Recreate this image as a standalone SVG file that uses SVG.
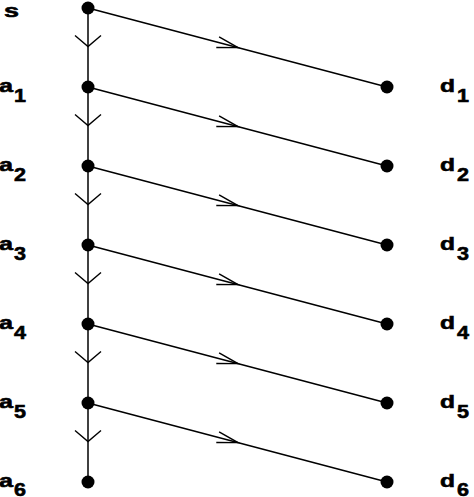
<svg xmlns="http://www.w3.org/2000/svg" xmlns:xlink="http://www.w3.org/1999/xlink" width="474" height="497" viewBox="0 0 474 497">
<style>
.ln{stroke:#000;stroke-width:1.5;fill:none}
.ch{stroke:#000;stroke-width:1.4;fill:none}
.nd{fill:#000}
.lb{font-family:"Liberation Sans",Arial,sans-serif;font-weight:bold;font-size:19px;fill:#000;stroke:#000;stroke-width:0.6}
</style>
<defs>
<path id="vch" class="ch" d="M-13,-11 L0,0 L13,-11"/>
<path id="dch" class="ch" d="M-21,-5.5 L0,0 L-21,5.5"/>
</defs>
<rect width="474" height="497" fill="#fff"/>
<g id="connectors">
<line class="ln" x1="88" y1="8" x2="88" y2="482"/>
<line class="ln" x1="88" y1="8" x2="387" y2="87"/>
<line class="ln" x1="88" y1="87" x2="387" y2="166"/>
<line class="ln" x1="88" y1="166" x2="387" y2="245"/>
<line class="ln" x1="88" y1="245" x2="387" y2="324"/>
<line class="ln" x1="88" y1="324" x2="387" y2="403"/>
<line class="ln" x1="88" y1="403" x2="387" y2="482"/>
<use xlink:href="#vch" transform="translate(88,46.5)"/>
<use xlink:href="#vch" transform="translate(88,125.5)"/>
<use xlink:href="#vch" transform="translate(88,204.5)"/>
<use xlink:href="#vch" transform="translate(88,283.5)"/>
<use xlink:href="#vch" transform="translate(88,362.5)"/>
<use xlink:href="#vch" transform="translate(88,441.5)"/>
<use xlink:href="#dch" transform="translate(238,47.6) rotate(14.8)"/>
<use xlink:href="#dch" transform="translate(238,126.6) rotate(14.8)"/>
<use xlink:href="#dch" transform="translate(238,205.6) rotate(14.8)"/>
<use xlink:href="#dch" transform="translate(238,284.6) rotate(14.8)"/>
<use xlink:href="#dch" transform="translate(238,363.6) rotate(14.8)"/>
<use xlink:href="#dch" transform="translate(238,442.6) rotate(14.8)"/>
</g>
<g id="s"><circle class="nd" cx="88" cy="8" r="6.5"/><text class="lb" x="4" y="17" textLength="15" lengthAdjust="spacingAndGlyphs">s</text></g>
<g id="a1"><circle class="nd" cx="88" cy="87" r="6.5"/><text class="lb" x="-1" y="92" textLength="14" lengthAdjust="spacingAndGlyphs">a</text><text class="lb" x="14" y="102" textLength="12" lengthAdjust="spacingAndGlyphs">1</text></g>
<g id="a2"><circle class="nd" cx="88" cy="166" r="6.5"/><text class="lb" x="-1" y="171" textLength="14" lengthAdjust="spacingAndGlyphs">a</text><text class="lb" x="14" y="181" textLength="12" lengthAdjust="spacingAndGlyphs">2</text></g>
<g id="a3"><circle class="nd" cx="88" cy="245" r="6.5"/><text class="lb" x="-1" y="250" textLength="14" lengthAdjust="spacingAndGlyphs">a</text><text class="lb" x="14" y="260" textLength="12" lengthAdjust="spacingAndGlyphs">3</text></g>
<g id="a4"><circle class="nd" cx="88" cy="324" r="6.5"/><text class="lb" x="-1" y="329" textLength="14" lengthAdjust="spacingAndGlyphs">a</text><text class="lb" x="14" y="339" textLength="12" lengthAdjust="spacingAndGlyphs">4</text></g>
<g id="a5"><circle class="nd" cx="88" cy="403" r="6.5"/><text class="lb" x="-1" y="408" textLength="14" lengthAdjust="spacingAndGlyphs">a</text><text class="lb" x="14" y="418" textLength="12" lengthAdjust="spacingAndGlyphs">5</text></g>
<g id="a6"><circle class="nd" cx="88" cy="482" r="6.5"/><text class="lb" x="-1" y="487" textLength="14" lengthAdjust="spacingAndGlyphs">a</text><text class="lb" x="14" y="496" textLength="12" lengthAdjust="spacingAndGlyphs">6</text></g>
<g id="d1"><circle class="nd" cx="387" cy="87" r="6.5"/><text class="lb" x="440" y="92" textLength="15" lengthAdjust="spacingAndGlyphs">d</text><text class="lb" x="457" y="102" textLength="12" lengthAdjust="spacingAndGlyphs">1</text></g>
<g id="d2"><circle class="nd" cx="387" cy="166" r="6.5"/><text class="lb" x="440" y="171" textLength="15" lengthAdjust="spacingAndGlyphs">d</text><text class="lb" x="457" y="181" textLength="12" lengthAdjust="spacingAndGlyphs">2</text></g>
<g id="d3"><circle class="nd" cx="387" cy="245" r="6.5"/><text class="lb" x="440" y="250" textLength="15" lengthAdjust="spacingAndGlyphs">d</text><text class="lb" x="457" y="260" textLength="12" lengthAdjust="spacingAndGlyphs">3</text></g>
<g id="d4"><circle class="nd" cx="387" cy="324" r="6.5"/><text class="lb" x="440" y="329" textLength="15" lengthAdjust="spacingAndGlyphs">d</text><text class="lb" x="457" y="339" textLength="12" lengthAdjust="spacingAndGlyphs">4</text></g>
<g id="d5"><circle class="nd" cx="387" cy="403" r="6.5"/><text class="lb" x="440" y="408" textLength="15" lengthAdjust="spacingAndGlyphs">d</text><text class="lb" x="457" y="418" textLength="12" lengthAdjust="spacingAndGlyphs">5</text></g>
<g id="d6"><circle class="nd" cx="387" cy="482" r="6.5"/><text class="lb" x="440" y="487" textLength="15" lengthAdjust="spacingAndGlyphs">d</text><text class="lb" x="457" y="496" textLength="12" lengthAdjust="spacingAndGlyphs">6</text></g>
</svg>
